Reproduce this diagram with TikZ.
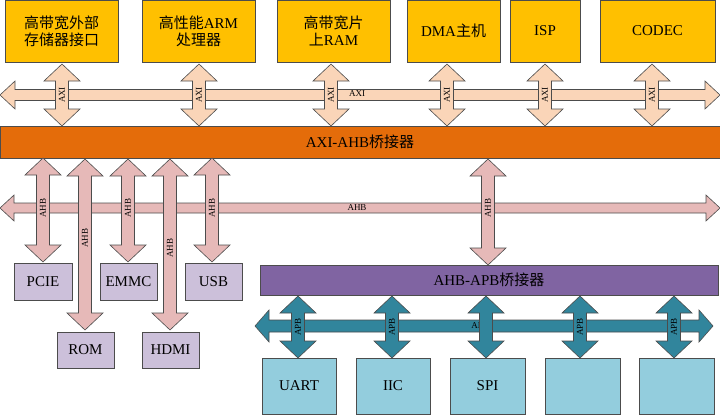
\documentclass[tikz,border=0pt]{standalone}
\usepackage{fontspec}
\setmainfont{Liberation Serif}
\newfontfamily\cjk{Noto Sans CJK SC}
\definecolor{yel}{HTML}{FFC000}
\definecolor{org}{HTML}{E46C0A}
\definecolor{axi}{HTML}{FAD5B8}
\definecolor{ahb}{HTML}{E6B9B8}
\definecolor{lav}{HTML}{CCC0DA}
\definecolor{pur}{HTML}{8064A2}
\definecolor{teal}{HTML}{31859C}
\definecolor{lb}{HTML}{93CDDD}
\newcommand\hbus[7]{% x1 x2 y shafthalf headhalf headlen color
 \fill[#7,draw=black!70,line width=0.6pt] (#1,#3) -- (#1+#6,#3-#5) -- (#1+#6,#3-#4) -- (#2-#6,#3-#4) -- (#2-#6,#3-#5) -- (#2,#3) -- (#2-#6,#3+#5) -- (#2-#6,#3+#4) -- (#1+#6,#3+#4) -- (#1+#6,#3+#5) -- cycle;}
\newcommand\vbus[7]{% y1 y2 x shafthalf headhalf headlen color
 \fill[#7,draw=black!70,line width=0.6pt] (#3,#1) -- (#3-#5,#1+#6) -- (#3-#4,#1+#6) -- (#3-#4,#2-#6) -- (#3-#5,#2-#6) -- (#3,#2) -- (#3+#5,#2-#6) -- (#3+#4,#2-#6) -- (#3+#4,#1+#6) -- (#3+#5,#1+#6) -- cycle;}
\newcommand\vlab[4][9]{\node[rotate=90,font=\fontsize{#1}{#1}\selectfont,inner sep=0] at (#2,#3) {#4};}
\begin{document}
\begin{tikzpicture}[x=1pt,y=-1pt,
 box/.style={draw=black!70,line width=0.6pt,inner sep=0,align=center,font=\fontsize{15}{17}\selectfont},
 bar/.style={draw=black!70,line width=0.6pt,inner sep=0,font=\fontsize{15}{17}\selectfont}]
\useasboundingbox (0,0) rectangle (720,415);
% top boxes
\node[box,fill=yel,minimum width=113,minimum height=62] (b1) at (61.5,31) {{\cjk 高带宽外部}\\{\cjk 存储器接口}};
\node[box,fill=yel,minimum width=113,minimum height=62] (b2) at (198.5,31) {{\cjk 高性能}ARM\\{\cjk 处理器}};
\node[box,fill=yel,minimum width=113,minimum height=62] (b3) at (333.5,31) {{\cjk 高带宽片}\\{\cjk 上}RAM};
\node[box,fill=yel,minimum width=93,minimum height=62] (b4) at (453.5,31) {DMA{\cjk 主机}};
\node[box,fill=yel,minimum width=70,minimum height=62] (b5) at (545,31) {ISP};
\node[box,fill=yel,minimum width=115,minimum height=62] (b6) at (657.5,31) {CODEC};
% AXI bus
\hbus{0}{720}{95}{5.5}{14}{15}{axi}
\node[font=\fontsize{9}{9}\selectfont,inner sep=0] at (357,94) {AXI};
\foreach \x in {62,199,331,447,545,652}{\vbus{64}{126}{\x}{6.5}{18}{17}{axi}\vlab{\x}{95}{AXI}}
% AXI-AHB bridge
\node[bar,fill=org,minimum width=720,minimum height=32] (br1) at (360,142) {AXI-AHB{\cjk 桥接器}};
% AHB bus
\hbus{0}{720}{208}{5}{13}{14}{ahb}
\node[font=\fontsize{9}{9}\selectfont,inner sep=0] at (357,208) {AHB};
\vbus{158}{262}{43}{6.5}{18}{17}{ahb}\vlab{43}{208}{AHB}
\vbus{159}{330}{85}{6.5}{18}{17}{ahb}\vlab{85}{238}{AHB}
\vbus{159}{262}{128}{6.5}{18}{17}{ahb}\vlab{128}{208}{AHB}
\vbus{159}{330}{170}{6.5}{18}{17}{ahb}\vlab{170}{248}{AHB}
\vbus{158}{262}{212}{6.5}{18}{17}{ahb}\vlab{212}{208}{AHB}
\vbus{159}{265}{488}{6.5}{18}{17}{ahb}\vlab{488}{208}{AHB}
% AHB peripherals
\node[box,fill=lav,minimum width=58,minimum height=37] (pcie) at (43,281.5) {PCIE};
\node[box,fill=lav,minimum width=57,minimum height=37] (emmc) at (128.5,281.5) {EMMC};
\node[box,fill=lav,minimum width=57,minimum height=37] (usb) at (213.5,281.5) {USB};
\node[box,fill=lav,minimum width=57,minimum height=36] (rom) at (85.5,350) {ROM};
\node[box,fill=lav,minimum width=57,minimum height=36] (hdmi) at (170.5,350) {HDMI};
% AHB-APB bridge
\node[bar,fill=pur,minimum width=458,minimum height=30] (br2) at (489,280) {AHB-APB{\cjk 桥接器}};
% APB bus
\hbus{255}{713}{326}{6}{16}{14}{teal}
\node[font=\fontsize{9}{9}\selectfont,inner sep=0] at (480,326) {APB};
\foreach \x in {298,392,486,580,674}{\vbus{296}{358}{\x}{6.5}{18}{17}{teal}}
\foreach \x in {298,392,580,674}{\vlab{\x}{327}{APB}}
% APB peripherals
\node[box,fill=lb,minimum width=74,minimum height=56] (uart) at (299,386) {UART};
\node[box,fill=lb,minimum width=74,minimum height=56] (iic) at (393,386) {IIC};
\node[box,fill=lb,minimum width=75,minimum height=56] (spi) at (487.5,386) {SPI};
\node[box,fill=lb,minimum width=75,minimum height=56] (p4) at (582.5,386) {};
\node[box,fill=lb,minimum width=75,minimum height=56] (p5) at (676.5,386) {};
\end{tikzpicture}
\end{document}
